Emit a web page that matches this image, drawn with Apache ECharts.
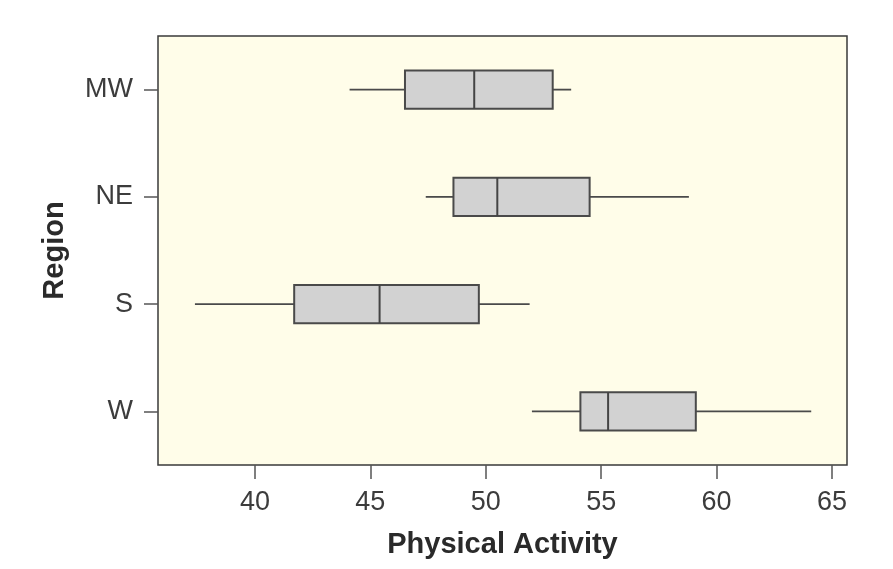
<!DOCTYPE html>
<html>
<head>
<meta charset="utf-8">
<script src="https://cdn.jsdelivr.net/npm/echarts@6/dist/echarts.min.js"></script>
<style>html,body{margin:0;padding:0;background:#fff}#c{width:893px;height:569px}</style>
</head>
<body>
<div id="c"></div>
<script>
const regions = ['MW', 'NE', 'S', 'W'];
const whiskerLow = [44.1, 47.4, 37.4, 52.0];
const q1 = [46.5, 48.6, 41.7, 54.1];
const median = [49.5, 50.5, 45.4, 55.3];
const q3 = [52.9, 54.5, 49.7, 59.1];
const whiskerHigh = [53.7, 58.8, 51.9, 64.1];
const xTicks = [40, 45, 50, 55, 60, 65];

const data = regions.map((r, i) => [i, whiskerLow[i], q1[i], median[i], q3[i], whiskerHigh[i]]);
const chart = echarts.init(document.getElementById('c'), null, {renderer: 'canvas'});
const font = '"Liberation Sans", Arial, sans-serif';

chart.setOption({
  animation: false,
  grid: {left: 158, right: 46, top: 36, bottom: 104, show: true,
         backgroundColor: '#FFFDE9', borderColor: '#3a3a3a', borderWidth: 1.5},
  xAxis: {
    type: 'value', min: 35.8, max: 65.65,
    name: 'Physical Activity', nameLocation: 'middle', nameGap: 65,
    nameTextStyle: {fontFamily: font, fontSize: 29, fontWeight: 'bold', color: '#2a2a2a'},
    axisLine: {show: false},
    axisTick: {show: true, length: 14, customValues: xTicks, lineStyle: {color: '#555', width: 1.5}},
    axisLabel: {customValues: xTicks, fontFamily: font, fontSize: 27, color: '#3c3c3c', margin: 24},
    splitLine: {show: false}
  },
  yAxis: {
    type: 'category', data: regions, inverse: true,
    name: 'Region', nameLocation: 'middle', nameGap: 89, nameRotate: 90,
    nameTextStyle: {fontFamily: font, fontSize: 29, fontWeight: 'bold', color: '#2a2a2a'},
    axisLine: {show: false},
    axisTick: {show: true, length: 14, alignWithLabel: true, lineStyle: {color: '#555', width: 1.5}},
    axisLabel: {fontFamily: font, fontSize: 27, color: '#3c3c3c', margin: 25},
    splitLine: {show: false}
  },
  series: [{
    type: 'custom',
    data: data,
    encode: {x: [1, 2, 3, 4, 5], y: 0},
    renderItem: function (params, api) {
      const ci = api.value(0);
      const lo = api.coord([api.value(1), ci]);
      const a = api.coord([api.value(2), ci]);
      const m = api.coord([api.value(3), ci]);
      const b = api.coord([api.value(4), ci]);
      const hi = api.coord([api.value(5), ci]);
      const band = api.size([0, 1])[1];
      const h = band * 0.355;
      const y = lo[1];
      const stroke = {stroke: '#4a4a4a', lineWidth: 1.8};
      return {
        type: 'group',
        children: [
          {type: 'line', shape: {x1: lo[0], y1: y, x2: a[0], y2: y}, style: stroke},
          {type: 'line', shape: {x1: b[0], y1: y, x2: hi[0], y2: y}, style: stroke},
          {type: 'rect', shape: {x: a[0], y: y - h / 2, width: b[0] - a[0], height: h},
           style: {fill: '#D2D2D2', stroke: '#4a4a4a', lineWidth: 2}},
          {type: 'line', shape: {x1: m[0], y1: y - h / 2, x2: m[0], y2: y + h / 2}, style: {stroke: '#444', lineWidth: 2}}
        ]
      };
    }
  }]
});
</script>
</body>
</html>
